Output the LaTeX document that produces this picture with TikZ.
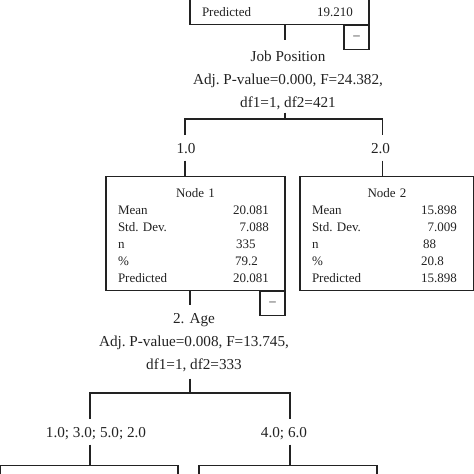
\documentclass[tikz,border=0pt]{standalone}
\usepackage{fontspec}
\setmainfont{Liberation Serif}
\usepackage{tikz}
\usetikzlibrary{positioning}
\definecolor{treeline}{HTML}{222222}

\begin{document}
\begin{tikzpicture}[x=1pt,y=-1pt,line width=1.1pt,color=treeline,
  box/.style={draw,anchor=north,align=left,inner xsep=12pt,inner ysep=3pt,
    font=\fontsize{13}{17}\selectfont},
  toggle/.style={draw,anchor=north east,minimum width=25pt,minimum height=24pt,
    inner sep=0pt,font=\fontsize{13}{17}\selectfont},
  split/.style={anchor=north,align=center,inner sep=2pt,
    font=\fontsize{15.2}{23}\selectfont},
  cat/.style={anchor=base,inner xsep=2pt,inner ysep=7pt,text height=10.3pt,
    text depth=0pt,font=\fontsize{15.2}{23}\selectfont}]
\clip (0,0) rectangle (474,474);
\node[box,text width=155pt,anchor=south] (n0) at (279.5,25)
  {\begin{tabular}[t]{@{}p{115pt}@{}l@{}}
   \% & 100.0\\
   Predicted & 19.210
   \end{tabular}};
\node[toggle] (t0) at (n0.south east) {--};
\node[split] (s0) at (288,48.6)
  {Job Position\\Adj.\ P-value=0.000, F=24.382,\\df1=1, df2=421};
\node[cat] (c1) at (186,153) {1.0};
\node[cat] (c2) at (380.5,153) {2.0};
\node[box,text width=155pt] (n1) at (195.5,176)
  {\rule{0pt}{18pt}\makebox[155pt]{Node 1}\\
   \begin{tabular}[t]{@{}p{115pt}@{}l@{}}
   Mean & 20.081\\
   Std.\ Dev. & \phantom{0}7.088\\
   n & \hspace{3pt}335\\
   \% & \hspace{2pt}79.2\\
   Predicted & 20.081
   \end{tabular}};
\node[toggle] (t1) at (n1.south east) {--};
\node[box,text width=150pt] (n2) at (387,176)
  {\rule{0pt}{18pt}\makebox[150pt]{Node 2}\\
   \begin{tabular}[t]{@{}p{109pt}@{}l@{}}
   Mean & 15.898\\
   Std.\ Dev. & \phantom{0}7.009\\
   n & \hspace{2pt}88\\
   \% & 20.8\\
   Predicted & 15.898
   \end{tabular}};
\node[split] (s1) at (194,311)
  {2. Age\\Adj.\ P-value=0.008, F=13.745,\\df1=1, df2=333};
\node[cat] (c3) at (96,437) {1.0; 3.0; 5.0; 2.0};
\node[cat] (c4) at (284,437) {4.0; 6.0};
\node[box,text width=154pt,minimum height=40pt] (n3) at (89,465) {};
\node[box,text width=154pt,minimum height=40pt] (n4) at (288,465) {};
\coordinate (b0) at (285,119);
\coordinate (b0l) at (185,119);
\coordinate (b0r) at (382.5,119);
\coordinate (b1) at (190,393);
\coordinate (b1l) at (90,393);
\coordinate (b1r) at (290,393);
\draw[shorten >=8.6pt] (n0.south -| b0) -- (s0.north -| b0);
\draw (s0.south -| b0) -- (b0);
\draw (c1.north -| b0l) -- (b0l) -- (b0r) -- (c2.north -| b0r);
\draw (c1.south -| b0l) -- (n1.north -| b0l);
\draw (c2.south -| b0r) -- (n2.north -| b0r);
\draw[shorten >=6pt] (n1.south -| b1) -- (s1.north -| b1);
\draw[shorten <=4pt] (s1.south -| b1) -- (b1);
\draw (c3.north -| b1l) -- (b1l) -- (b1r) -- (c4.north -| b1r);
\draw (c3.south -| b1l) -- (n3.north -| b1l);
\draw (c4.south -| b1r) -- (n4.north -| b1r);
\end{tikzpicture}
\end{document}
